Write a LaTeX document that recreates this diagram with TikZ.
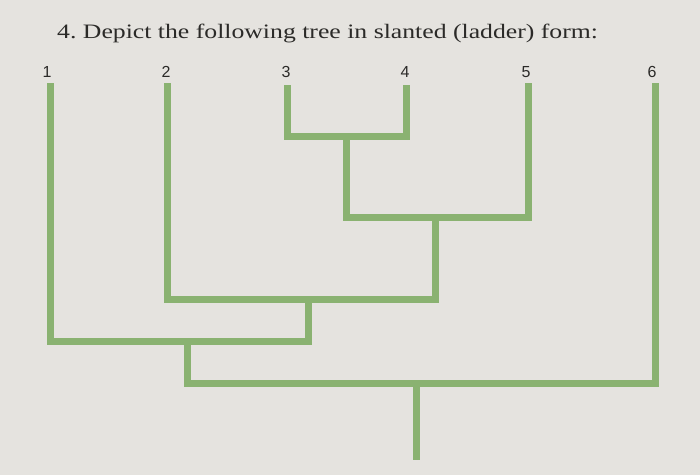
\documentclass[tikz,border=0pt]{standalone}
\usepackage{fontspec}
\setmainfont{Liberation Serif}
\newfontfamily\labelfont{Liberation Sans}
\definecolor{paper}{HTML}{E5E3DF}
\definecolor{branchgreen}{HTML}{8AB271}
\definecolor{ink}{HTML}{2B2A28}
\begin{document}
\begin{tikzpicture}[x=1pt,y=-1pt,
  branch/.style={draw=branchgreen,line width=7pt,line cap=rect,line join=miter},
  leaflabel/.style={font=\labelfont\fontsize{16}{18}\selectfont,text=ink,inner sep=0pt,anchor=base}]
\fill[paper] (0,0) rectangle (700,475);
\useasboundingbox (0,0) rectangle (700,475);
\node[anchor=base west,inner sep=0pt,text=ink,font=\fontsize{20.5}{24}\selectfont] (title) at (57,38) {\scalebox{1.255}[1]{4.\ Depict the following tree in slanted (ladder) form:}};
\node[leaflabel] (n1) at (47,77) {1};
\node[leaflabel] (n2) at (166,77) {2};
\node[leaflabel] (n3) at (286,77) {3};
\node[leaflabel] (n4) at (405,77) {4};
\node[leaflabel] (n5) at (526,77) {5};
\node[leaflabel] (n6) at (652,77) {6};
\coordinate (l1) at (50,86);
\coordinate (l2) at (167,86);
\coordinate (l3) at (287,88);
\coordinate (l4) at (406,88);
\coordinate (l5) at (528,86);
\coordinate (l6) at (655,86);
\coordinate (c34) at (346,136);
\coordinate (c345) at (435,217);
\coordinate (c2345) at (308,299);
\coordinate (c12345) at (187,341);
\coordinate (croot) at (416,383);
\coordinate (root) at (416,456);
\path[branch] (l3) |- (c34) -| (l4);
\path[branch] (c34) |- (c345) -| (l5);
\path[branch] (l2) |- (c2345);
\path[branch] (c345) |- (c2345);
\path[branch] (l1) |- (c12345);
\path[branch] (c2345) |- (c12345);
\path[branch] (c12345) |- (croot);
\path[branch] (l6) |- (croot);
\path[branch] (croot) -- (root);
\end{tikzpicture}
\end{document}
